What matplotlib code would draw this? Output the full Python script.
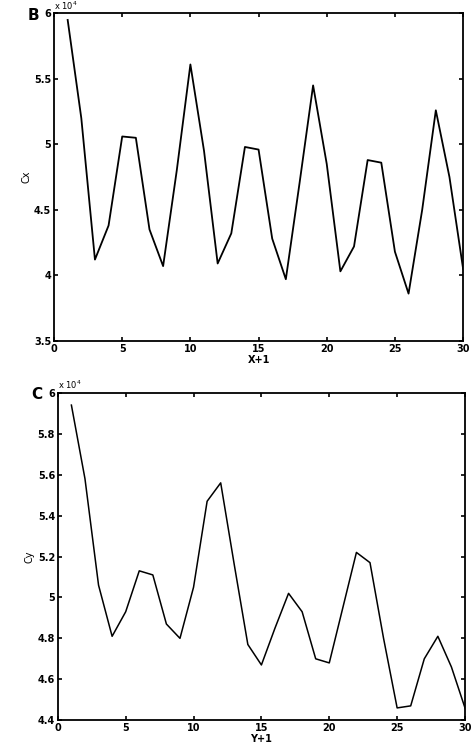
import matplotlib
matplotlib.use("Agg")
import matplotlib.pyplot as plt

x = list(range(1, 31))
cx = [5.95, 5.2, 4.12, 4.38, 5.06, 5.05, 4.35, 4.07, 4.8, 5.61, 4.95, 4.09, 4.32, 4.98, 4.96,
      4.28, 3.97, 4.7, 5.45, 4.85, 4.03, 4.22, 4.88, 4.86, 4.18, 3.86, 4.5, 5.26, 4.75, 4.05]
cy = [5.94, 5.58, 5.06, 4.81, 4.93, 5.13, 5.11, 4.87, 4.80, 5.05, 5.47, 5.56, 5.16, 4.77, 4.67,
      4.85, 5.02, 4.93, 4.70, 4.68, 4.95, 5.22, 5.17, 4.80, 4.46, 4.47, 4.70, 4.81, 4.66, 4.46]
xticks = [0, 5, 10, 15, 20, 25, 30]
yticks_b = [3.5, 4, 4.5, 5, 5.5, 6]
yticks_c = [4.4, 4.6, 4.8, 5, 5.2, 5.4, 5.6, 5.8, 6]

fig = plt.figure(figsize=(4.74, 7.44), dpi=100)
axb = fig.add_axes([0.114, 0.542, 0.863, 0.44])
axc = fig.add_axes([0.122, 0.032, 0.859, 0.44])

def style(ax, yt, ylim, xl, yl, letter):
    ax.set_xlim(0, 30)
    ax.set_ylim(*ylim)
    ax.set_xticks(xticks)
    ax.set_yticks(yt)
    ax.set_xticklabels([str(t) for t in xticks], fontsize=7, fontweight='bold')
    ax.set_yticklabels([f"{t:g}" for t in yt], fontsize=7, fontweight='bold')
    ax.tick_params(direction='in', top=True, right=True, length=3, pad=2, width=1.2)
    for s in ax.spines.values():
        s.set_linewidth(1.3)
    ax.set_xlabel(xl, fontsize=7, fontweight='bold', labelpad=1)
    ax.set_ylabel(yl, fontsize=7, labelpad=2)
    ax.text(0.0, 1.005, r"x 10$^4$", transform=ax.transAxes, fontsize=6, va='bottom')
    ax.text(-0.065, 0.995, letter, transform=ax.transAxes, fontsize=11, fontweight='bold', va='center')

axb.plot(x, cx, color='black', lw=1.3)
style(axb, yticks_b, (3.5, 6), "X+1", "Cx", "B")
axc.plot(x, cy, color='black', lw=1.1)
style(axc, yticks_c, (4.4, 6), "Y+1", "Cy", "C")

fig.savefig("out.png", dpi=100)
